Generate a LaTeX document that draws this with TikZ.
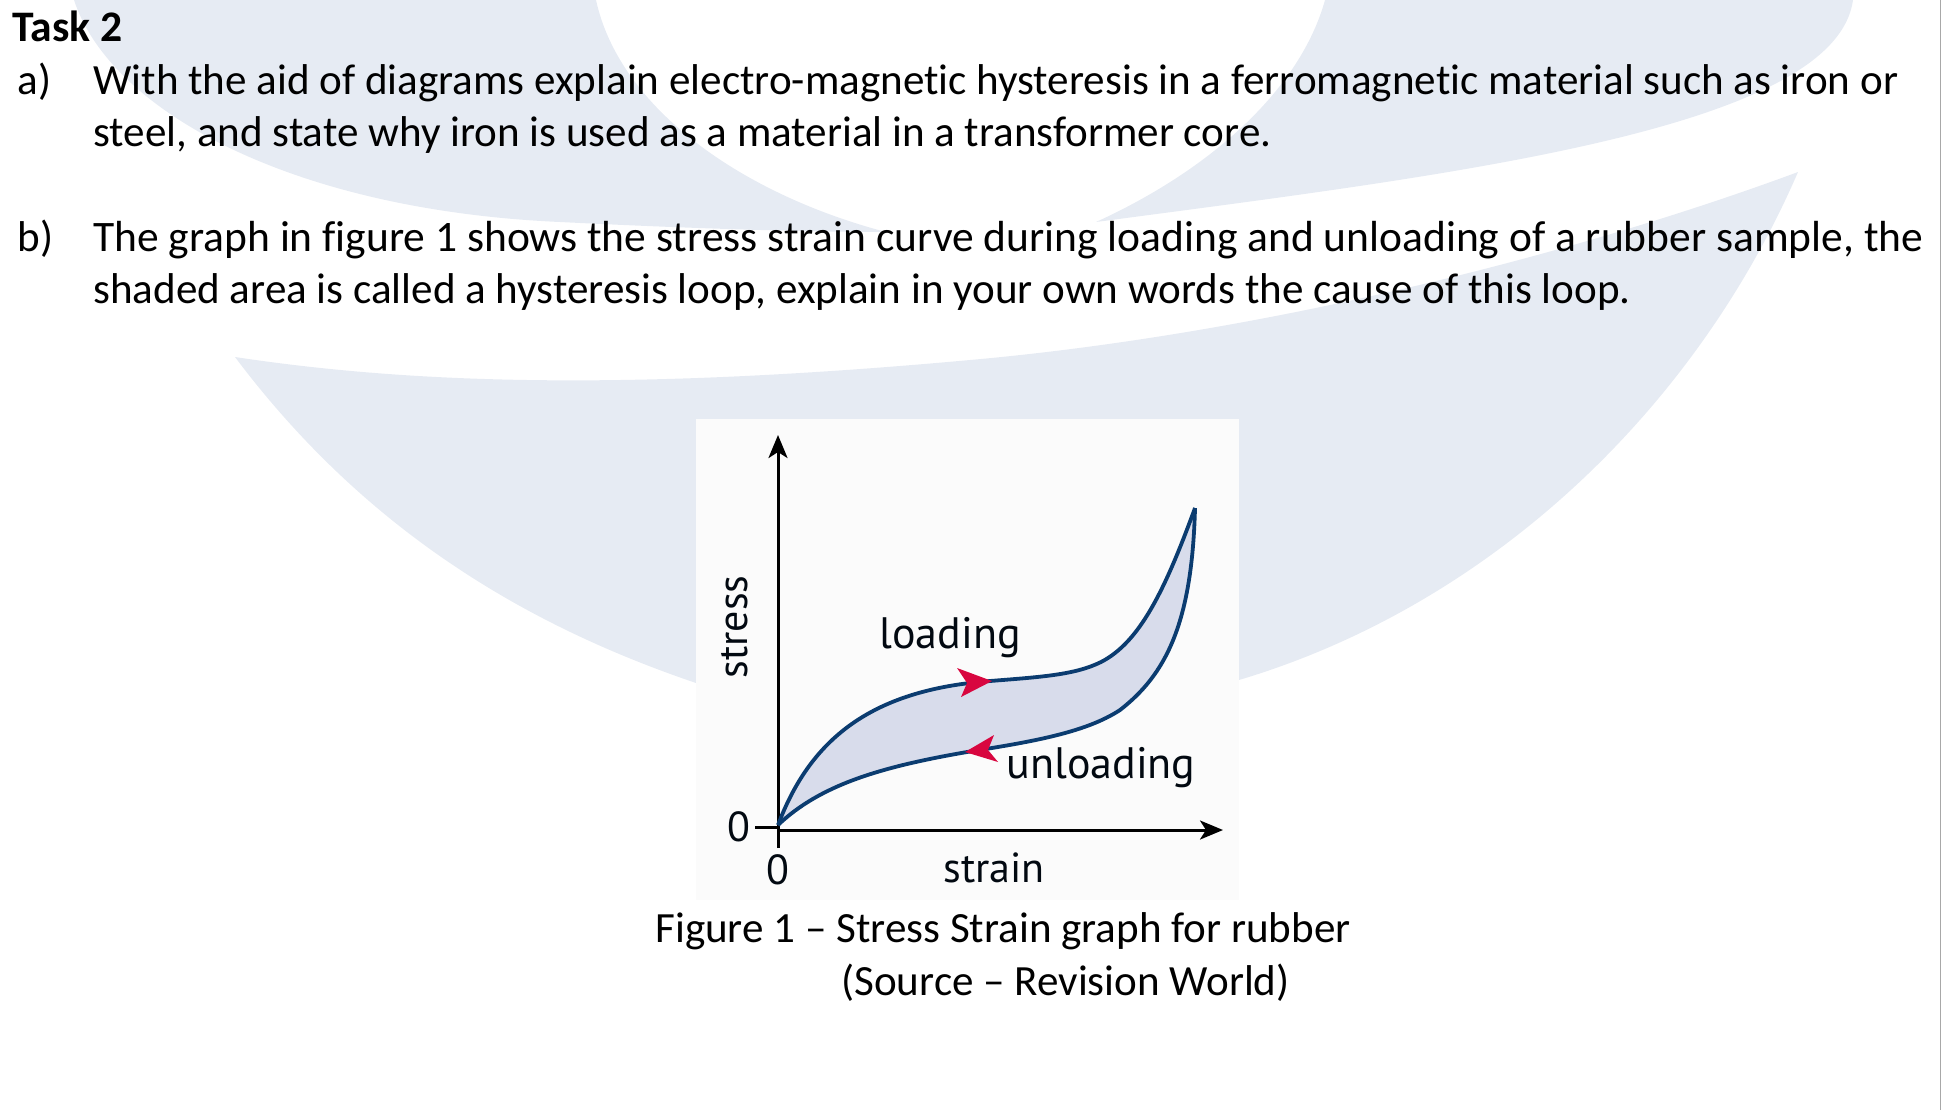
\documentclass[tikz,border=0pt]{standalone}
\usepackage{fontspec}
\setmainfont[RawFeature={-liga}]{Carlito}
\newfontfamily\graphfont{PT Sans}
\usetikzlibrary{arrows.meta,positioning}

\definecolor{swoosh}{HTML}{E6EBF3}
\definecolor{panelgrey}{HTML}{FBFBFB}
\definecolor{loopfill}{HTML}{D8DCEB}
\definecolor{curvenavy}{HTML}{0B3C70}
\definecolor{arrowred}{HTML}{D8063F}
\definecolor{edgegrey}{HTML}{A8A8A8}

\begin{document}
\begin{tikzpicture}[x=0.5pt,y=-0.5pt,
		textline/.style={anchor=base west,inner sep=0pt,font=\fontsize{21.55}{25}\selectfont},
		graphlabel/.style={inner sep=0pt,text=black!85!curvenavy,font=\graphfont\fontsize{21}{24}\selectfont},
		curvelabel/.style={graphlabel,font=\graphfont\fontsize{22}{24}\selectfont},
		axis/.style={-{Stealth[length=11.5pt,width=9.5pt,inset=3pt]},line width=1.5pt},
		tick/.style={line width=1.5pt},
		curve/.style={draw=curvenavy,line width=1.9pt},
		redhead/.style={fill=arrowred,draw=none}]
		\useasboundingbox (0,0) rectangle (1942,1110);

		% background shapes
		\fill [swoosh] (74,0) .. controls (110,110) and (290,210) .. (560,222)
			.. controls (680,228) and (800,232) .. (886,232)
			.. controls (745,195) and (620,110) .. (596,0) -- cycle;
		\fill [swoosh] (1325,0) .. controls (1300,90) and (1210,170) .. (1096,222)
			.. controls (1450,175) and (1835,130) .. (1853,0) -- cycle;
		\fill [swoosh] (235,357) .. controls (420,385) and (640,390) .. (970,360)
			.. controls (1250,335) and (1560,260) .. (1798,172)
			.. controls (1695,410) and (1490,605) .. (1239,680)
			-- (696,683)
			.. controls (525,625) and (365,530) .. (235,357) -- cycle;
		\draw [edgegrey,line width=0.8pt] (1940.5,0) -- (1940.5,1110);

		% text lines
		\node [textline,font=\bfseries\fontsize{21.8}{25}\selectfont] (task) at (12,41) {Task 2};
		\node [textline] (a-mark) at (17,94) {a)};
		\node [textline] (a-one) at (93,94) {With the aid of diagrams explain electro-magnetic hysteresis in a ferromagnetic material such as iron or};
		\node [textline] (a-two) at (93,146) {steel, and state why iron is used as a material in a transformer core.};
		\node [textline] (b-mark) at (17,251) {b)};
		\node [textline,font=\fontsize{21.75}{25}\selectfont] (b-one) at (93,251) {The graph in figure 1 shows the stress strain curve during loading and unloading of a rubber sample, the};
		\node [textline] (b-two) at (93,303) {shaded area is called a hysteresis loop, explain in your own words the cause of this loop.};

		% graph panel
		\fill [panelgrey] (696,419) rectangle (1239,900);
		\fill [loopfill] (778,825) .. controls (810,740) and (870,690) .. (990,681)
			.. controls (1040,677) and (1075,675) .. (1101,662)
			.. controls (1140,642) and (1165,590) .. (1195,508)
			.. controls (1192,625) and (1165,675) .. (1120,710)
			.. controls (1085,733) and (1030,742) .. (967,752)
			.. controls (880,767) and (820,785) .. (778,825) -- cycle;

		\coordinate (origin) at (778,830);
		\coordinate (y-top) at (778,435);
		\coordinate (y-low) at (778,848);
		\coordinate (x-end) at (1223,830);
		\coordinate (y-zero) at (755,827);

		% axes
		\draw [axis] (y-low) to (y-top);
		\draw [axis] (origin) to (x-end);
		\draw [tick] (y-zero) to (origin |- y-zero);

		% curves
		\draw [curve] (778,825) .. controls (810,740) and (870,690) .. (990,681)
			.. controls (1040,677) and (1075,675) .. (1101,662)
			.. controls (1140,642) and (1165,590) .. (1195,508);
		\draw [curve] (1195,508) .. controls (1192,625) and (1165,675) .. (1120,710)
			.. controls (1085,733) and (1030,742) .. (967,752)
			.. controls (880,767) and (820,785) .. (778,825);

		% red heads
		\fill [redhead] (992,681) -- (957,668) -- (967,683) -- (961,697) -- cycle;
		\fill [redhead] (965,752) -- (994,735) -- (988,750) -- (998,762) -- cycle;

		% labels
		\node [graphlabel] (zero-y) [left=2pt of y-zero] {0};
		\node [graphlabel] (zero-x) [below=3pt of y-low] {0};
		\node [graphlabel] (strain) at (994,868) {strain};
		\node [graphlabel,rotate=90] (stress) at (735,627) {stress};
		\node [curvelabel] (loading) at (950,638) {loading};
		\node [curvelabel] (unloading) at (1101,768) {unloading};

		% caption
		\node [textline] (caption-one) at (655,942) {Figure 1 – Stress Strain graph for rubber};
		\node [textline] (caption-two) at (841,995) {(Source – Revision World)};
	\end{tikzpicture}
\end{document}
